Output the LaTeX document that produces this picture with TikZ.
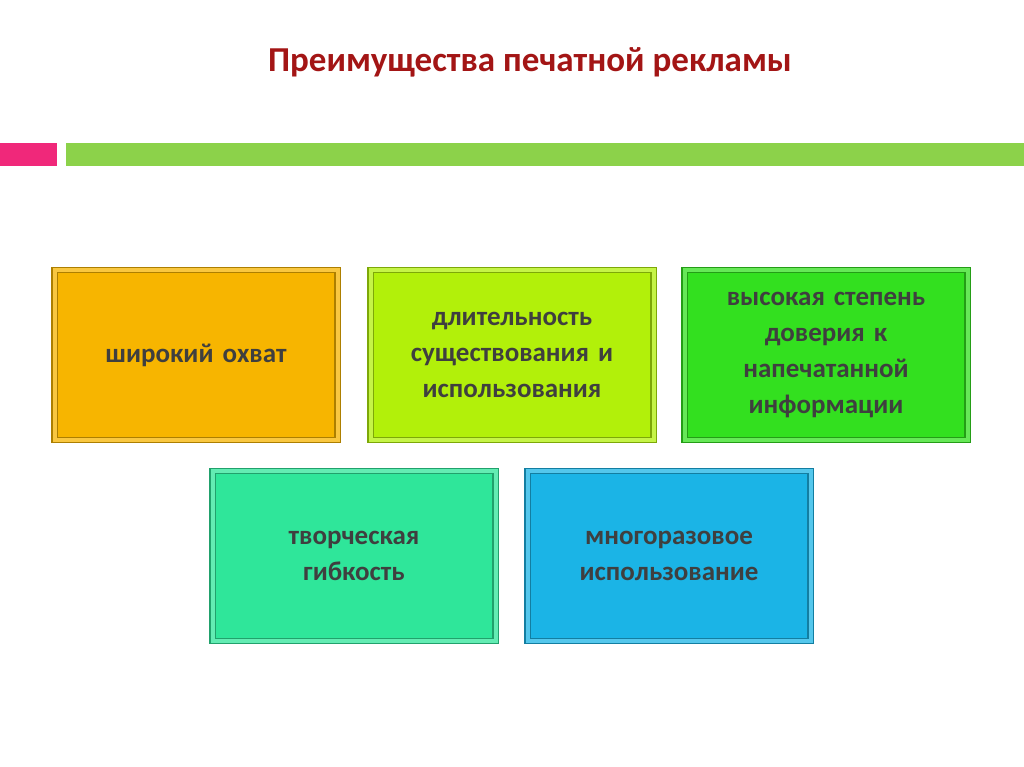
\documentclass[tikz,border=0pt]{standalone}
\usepackage{fontspec}
\usetikzlibrary{shadows}
\setmainfont{Carlito}
\definecolor{tred}{HTML}{A31515}
\definecolor{tgray}{HTML}{3F3F3F}
\definecolor{cA}{HTML}{F7B500}
\definecolor{cB}{HTML}{B2F00A}
\definecolor{cC}{HTML}{33E01F}
\definecolor{cD}{HTML}{2FE69A}
\definecolor{cE}{HTML}{1BB4E6}
\definecolor{barG}{HTML}{8CD24A}
\definecolor{barP}{HTML}{F0287A}
\begin{document}
\begin{tikzpicture}[x=1pt,y=-1pt,
  card/.style={draw=#1!70!black, line width=1.2pt, fill=#1, minimum width=283pt, minimum height=170pt,
    inner sep=6pt, align=center, text width=260pt, text=tgray, font=\fontsize{27}{36}\selectfont\bfseries,
    double=#1!75!white, double distance=4pt, drop shadow={opacity=0.35, shadow xshift=2pt, shadow yshift=-3pt}}]
\useasboundingbox (0,0) rectangle (1024,767);
\fill[white] (0,0) rectangle (1024,767);
\node (title) at (530,62) {\color{tred}\fontsize{35}{40}\selectfont\bfseries Преимущества печатной рекламы};
\fill[barP] (0,143) rectangle (57,166);
\fill[barG] (66,143) rectangle (1024,166);
\node[card=cA] (a) at (196,355) {широкий охват};
\node[card=cB] (b) at (512,355) {длительность\\существования и\\использования};
\node[card=cC] (c) at (826,355) {высокая степень\\доверия к\\напечатанной\\информации};
\node[card=cD] (d) at (354,556) {творческая\\гибкость};
\node[card=cE] (e) at (669,556) {многоразовое\\использование};
\end{tikzpicture}
\end{document}
